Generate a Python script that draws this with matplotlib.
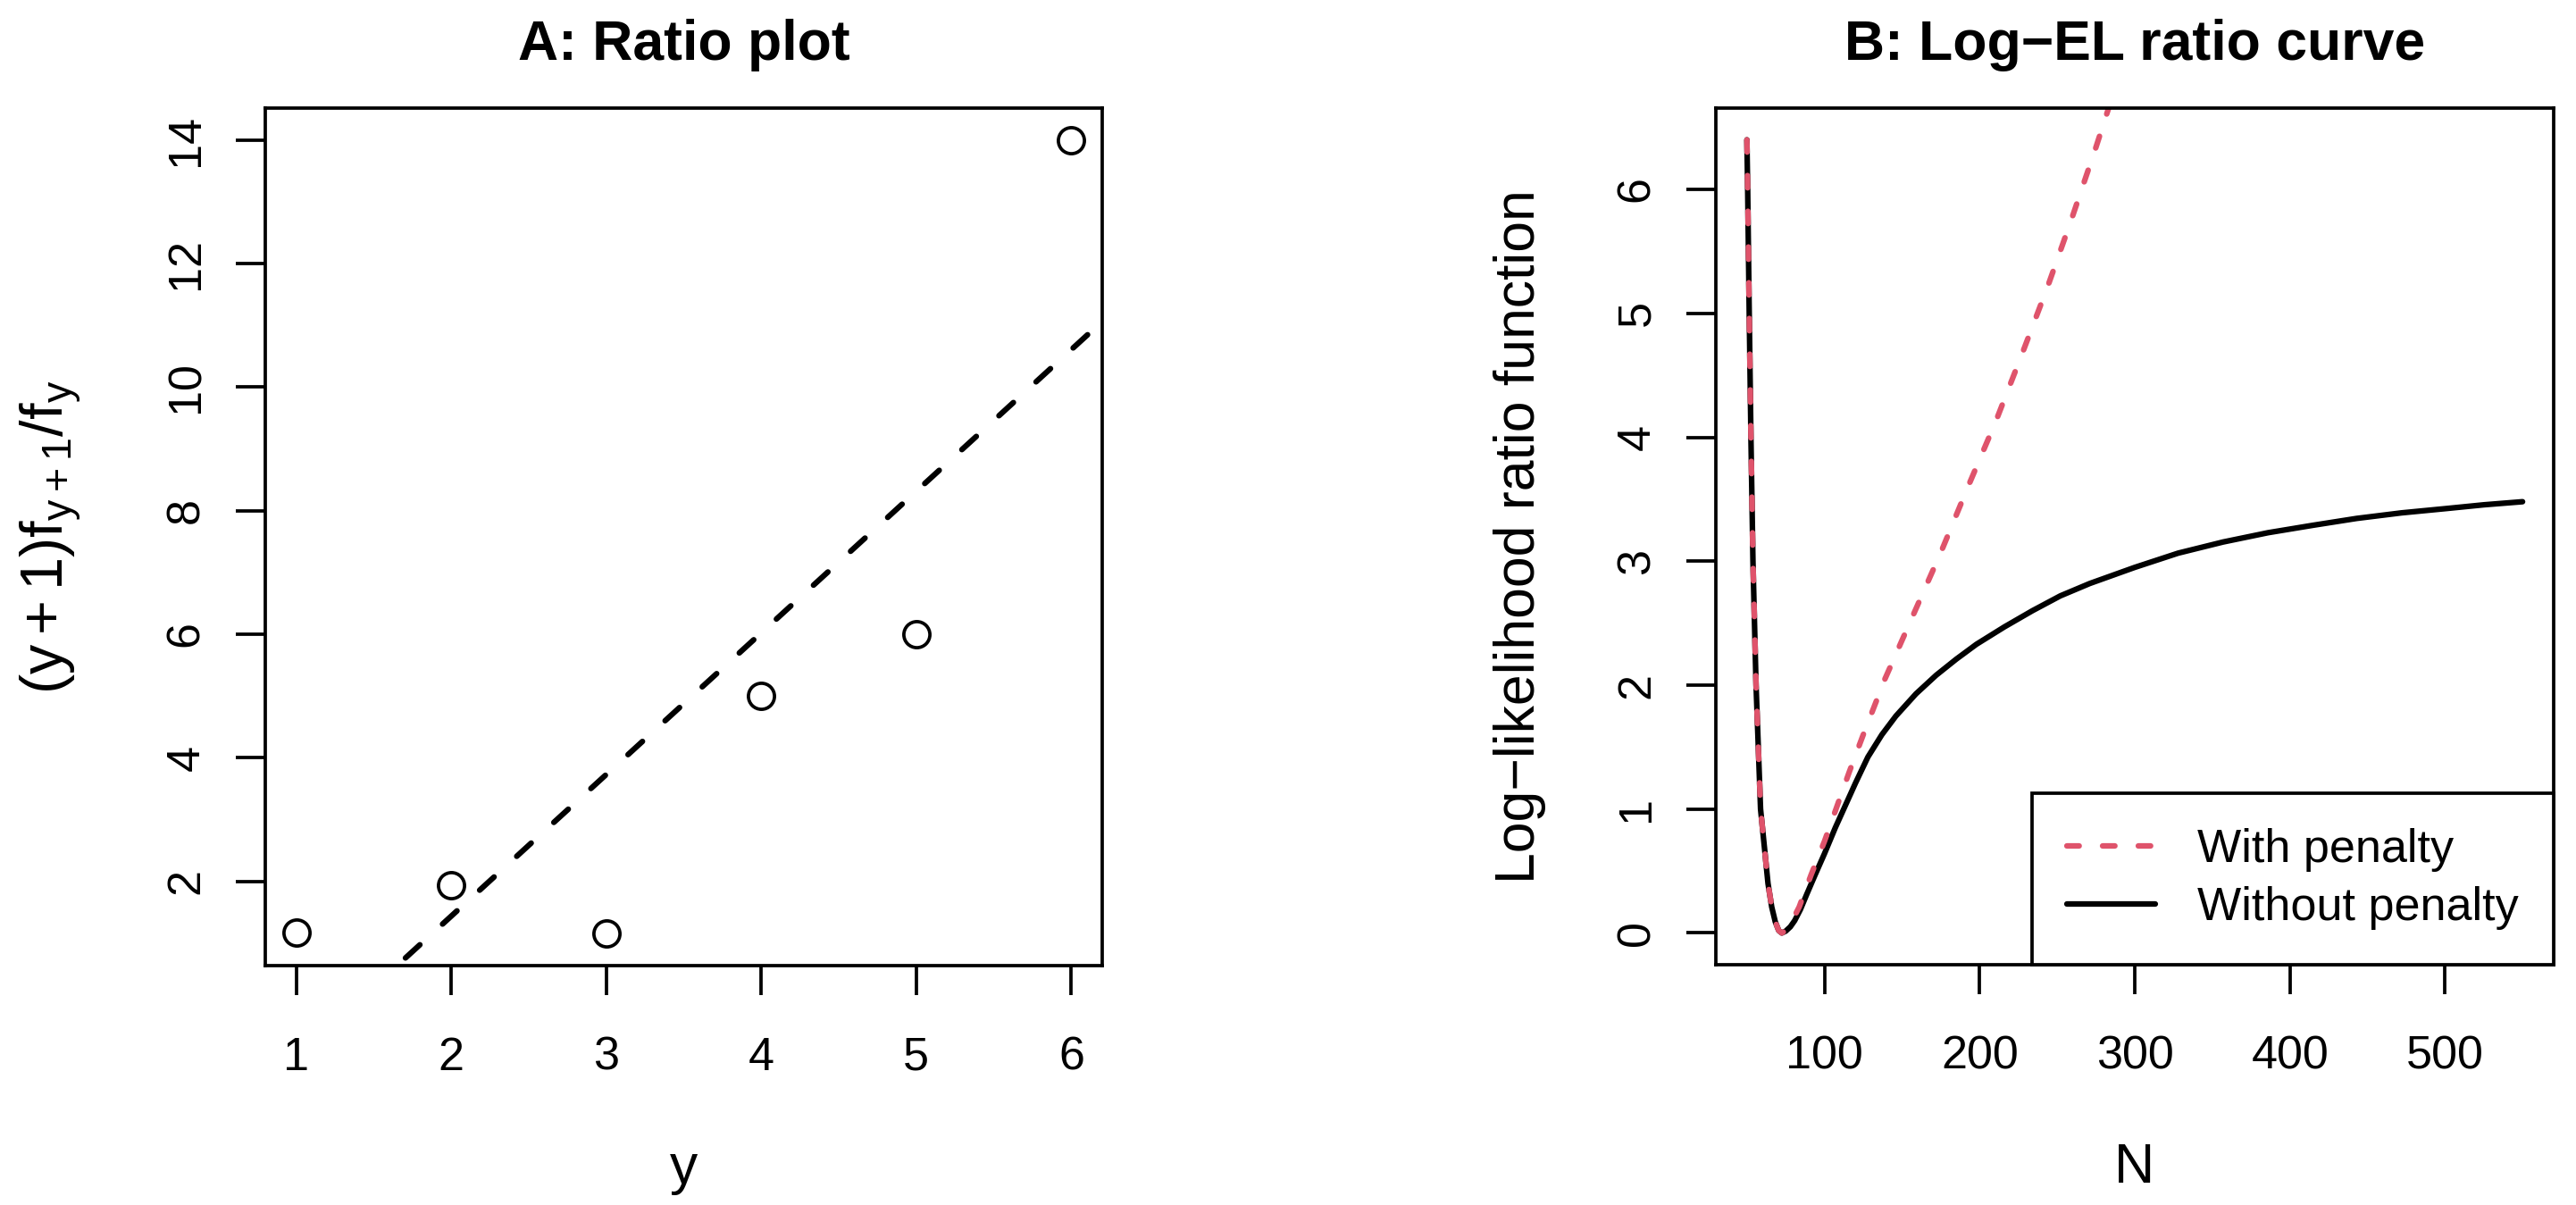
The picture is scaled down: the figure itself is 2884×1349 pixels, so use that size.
import matplotlib.pyplot as plt
import numpy as np

plt.rcParams['font.family'] = ['Liberation Sans', 'DejaVu Sans']
plt.rcParams['mathtext.fontset'] = 'custom'
plt.rcParams['mathtext.rm'] = 'Liberation Sans'
plt.rcParams['mathtext.it'] = 'Liberation Sans'
plt.rcParams['mathtext.bf'] = 'Liberation Sans:bold'

RED = '#DF536B'

# Panel A: ratio plot
y_values = [1, 2, 3, 4, 5, 6]
ratio_values = [1.17, 1.93, 1.15, 5.0, 6.0, 14.0]

# Panel B: log-EL ratio curves
n_without = [50, 50.5, 51.5, 52.6, 53.9, 55.9, 58.8, 61.3, 63.6, 66, 68.3,
             70.5, 72.5, 75, 78, 80.8, 84.5, 88.5, 94, 100, 107, 113.5, 120,
             128, 137, 146, 159, 172, 185, 198, 216, 234, 252, 271, 300,
             328, 357, 386, 415, 443, 472, 501, 525, 550]
llr_without = [6.40, 6.00, 5.00, 4.00, 3.00, 2.00, 1.00, 0.69, 0.40, 0.21, 0.09,
               0.02, 0.00, 0.015, 0.05, 0.10, 0.19, 0.31, 0.47, 0.64, 0.85, 1.03, 1.21,
               1.42, 1.60, 1.75, 1.93, 2.08, 2.21, 2.33, 2.47, 2.60, 2.72, 2.82, 2.95,
               3.065, 3.155, 3.23, 3.29, 3.345, 3.39, 3.425, 3.455, 3.48]

n_with = [50, 50.5, 51.5, 52.6, 53.9, 55.9, 58.8, 61.3, 63.6, 66, 68.3,
          70.5, 72.5, 75, 78, 83.7, 91.4, 100, 108, 116, 125, 139, 157, 175,
          192.5, 210.5, 227, 244, 259, 275, 290]
llr_with = [6.40, 6.00, 5.00, 4.00, 3.00, 2.00, 1.00, 0.69, 0.40, 0.21, 0.09,
            0.02, 0.00, 0.02, 0.07, 0.21, 0.47, 0.74, 1.02, 1.30, 1.60, 2.05, 2.56, 3.07,
            3.60, 4.13, 4.66, 5.22, 5.75, 6.34, 6.92]

TICK_FS = 12.5
LABEL_FS = 15


def r_range(values):
    # R style axis range: data range padded by 4% on each side
    lo, hi = min(values), max(values)
    pad = 0.04 * (hi - lo)
    return lo - pad, hi + pad


def style_axes(ax):
    for spine in ax.spines.values():
        spine.set_linewidth(0.9)
    ax.tick_params(direction='out', length=7.9, width=0.9,
                   labelsize=TICK_FS, colors='black')
    ax.tick_params(axis='x', pad=11)
    ax.tick_params(axis='y', pad=7.4, labelrotation=90)
    for lab in ax.get_yticklabels():
        lab.set_verticalalignment('center')


fig = plt.figure(figsize=(2884 / 300, 1349 / 300), dpi=300)

# ---- A: Ratio plot
axA = fig.add_axes([0.1030, 0.1987, 0.3249, 0.7116])
axA.set_xlim(*r_range(y_values))
axA.set_ylim(*r_range(ratio_values))
axA.plot(y_values, ratio_values, 'o', mfc='none', mec='black', ms=7, mew=0.9)

slope, intercept = np.polyfit(y_values, ratio_values, 1)
xs = np.array(axA.get_xlim())
axA.plot(xs, intercept + slope * xs, color='black', lw=1.5,
         linestyle=(2, (3.5, 5.5)), dash_capstyle='round')

axA.set_xticks(y_values)
axA.set_yticks([2, 4, 6, 8, 10, 12, 14])
style_axes(axA)
axA.set_title('A: Ratio plot', fontsize=15, fontweight='bold', pad=13)
axA.set_xlabel('y', fontsize=LABEL_FS, va='baseline')
axA.xaxis.set_label_coords(0.5, -0.254)
axA.set_ylabel(r'$(y+1)\mathrm{f}_{y+1}/\mathrm{f}_{y}$', fontsize=LABEL_FS + 1,
               va='center')
axA.yaxis.set_label_coords(-0.257, 0.5)

# ---- B: Log-EL ratio curve
axB = fig.add_axes([0.6661, 0.1994, 0.3252, 0.7109])
axB.set_xlim(*r_range(n_without))
axB.set_ylim(*r_range(llr_without))
line_without, = axB.plot(n_without, llr_without, color='black', lw=1.5,
                         solid_capstyle='round', solid_joinstyle='round')
line_with, = axB.plot(n_with, llr_with, color=RED, lw=1.5,
                      linestyle=(0, (2.2, 4.2)), dash_capstyle='round')

axB.set_xticks([100, 200, 300, 400, 500])
axB.set_yticks([0, 1, 2, 3, 4, 5, 6])
style_axes(axB)
axB.set_title('B: Log\u2212EL ratio curve', fontsize=15, fontweight='bold', pad=13)
axB.set_xlabel('N', fontsize=LABEL_FS, va='baseline')
axB.xaxis.set_label_coords(0.5, -0.2544)
axB.set_ylabel('Log\u2212likelihood ratio function', fontsize=LABEL_FS, va='center')
axB.yaxis.set_label_coords(-0.2345, 0.5)

leg = axB.legend([line_with, line_without], ['With penalty', 'Without penalty'],
                 loc='lower right', bbox_to_anchor=(1, 0), borderaxespad=0,
                 fontsize=TICK_FS, frameon=True, fancybox=False,
                 handlelength=1.9, handletextpad=0.9, borderpad=0.75,
                 labelspacing=0.3)
frame = leg.get_frame()
frame.set_edgecolor('black')
frame.set_linewidth(0.9)
frame.set_alpha(1)

fig.savefig('out.png', dpi=300)
